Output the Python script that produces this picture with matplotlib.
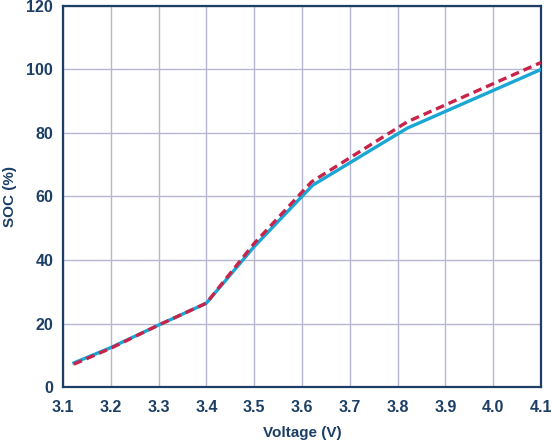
import numpy as np
import matplotlib
matplotlib.use("Agg")
import matplotlib.pyplot as plt

# SOC vs voltage
volt_meas = [3.123, 3.2, 3.3, 3.4, 3.5, 3.622, 3.82, 4.1]
soc_meas = [7.6, 12.4, 19.5, 26.4, 44.2, 63.5, 81.5, 100.0]

volt_model = [3.123, 3.2, 3.3, 3.4, 3.5, 3.62, 3.82, 4.1]
soc_model = [7.2, 12.2, 19.5, 26.4, 45.2, 64.6, 83.5, 102.2]

xticks = [3.1, 3.2, 3.3, 3.4, 3.5, 3.6, 3.7, 3.8, 3.9, 4.0, 4.1]
yticks = [0, 20, 40, 60, 80, 100, 120]

navy = '#1d3f66'
plt.rcParams['font.family'] = ['Liberation Sans', 'DejaVu Sans']

fig = plt.figure(figsize=(5.52, 4.43), dpi=100)
ax = fig.add_axes([0.114, 0.1264, 0.866, 0.8601])

ax.plot(volt_meas, soc_meas, color='#1aa6d4', lw=2.4, solid_joinstyle='round', zorder=3)
ax.plot(volt_model, soc_model, color='#c8234b', lw=2.4, ls=(0, (2.6, 1.5)), zorder=4)

ax.set_xlim(3.1, 4.1)
ax.set_ylim(0, 120)
ax.set_xticks(xticks)
ax.set_xticklabels([f'{v:.1f}' for v in xticks])
ax.set_yticks(yticks)
ax.grid(True, color='#b5b7cf', lw=1.0)
ax.set_axisbelow(True)
for s in ax.spines.values():
    s.set_color(navy)
    s.set_linewidth(1.6)
ax.tick_params(length=0, labelsize=11.5, labelcolor=navy)
ax.tick_params(axis='x', pad=9)
ax.tick_params(axis='y', pad=7)
for lab in ax.get_xticklabels() + ax.get_yticklabels():
    lab.set_fontweight('bold')

ax.set_xlabel('Voltage (V)', fontsize=11, fontweight='bold', color=navy, labelpad=8)
ax.set_ylabel('SOC (%)', fontsize=11, fontweight='bold', color=navy, labelpad=7)

fig.savefig('out.png', dpi=100)
